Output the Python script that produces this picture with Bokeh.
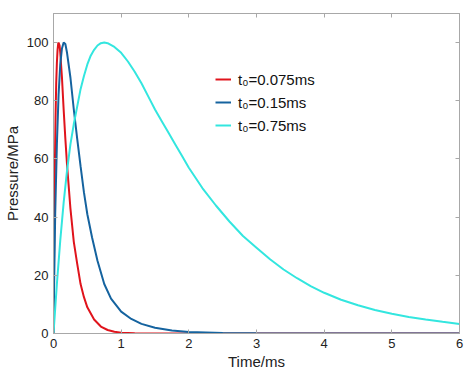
from bokeh.plotting import figure
from bokeh.models import Range1d, LinearAxis, Legend, LegendItem, FixedTicker
from bokeh.embed import file_html
from bokeh.resources import INLINE

# ---- data ----
t_red = [0, 0.01, 0.02, 0.03, 0.04, 0.05, 0.06, 0.07, 0.075, 0.09, 0.1, 0.125,
         0.15, 0.175, 0.2, 0.25, 0.3, 0.35, 0.4, 0.45, 0.5, 0.6, 0.7, 0.8,
         0.9, 1.0, 1.2, 1.5, 2.0, 6.0]
p_red = [0, 33, 57, 74, 86, 93, 97.5, 99.7, 100, 99, 96.5, 88,
         77, 67, 58, 43, 31.5, 24, 17, 12.5, 9, 4.8, 2.4, 1.2,
         0.6, 0.3, 0.1, 0.03, 0, 0]

t_blue = [0, 0.01, 0.025, 0.05, 0.075, 0.1, 0.125, 0.15, 0.175, 0.2, 0.25, 0.3,
          0.35, 0.4, 0.45, 0.5, 0.57, 0.65, 0.75, 0.85, 1.0, 1.15, 1.3, 1.5,
          1.75, 2.0, 2.5, 3.0, 4.0, 6.0]
p_blue = [0, 18, 41, 65, 82, 92.5, 98, 100, 99.5, 96.5, 88, 77,
          67, 57.5, 48.5, 41, 33, 25, 17, 12, 7.5, 5, 3.3, 2,
          1, 0.5, 0.15, 0.05, 0, 0]

t_cyan = [0, 0.05, 0.1, 0.15, 0.2, 0.25, 0.3, 0.35, 0.4, 0.45, 0.5, 0.55,
          0.6, 0.65, 0.7, 0.75, 0.8, 0.9, 1.0, 1.1, 1.2, 1.3, 1.4, 1.5,
          1.6, 1.7, 1.8, 1.9, 2.0, 2.2, 2.4, 2.6, 2.8, 3.0, 3.2, 3.4,
          3.6, 3.8, 4.0, 4.25, 4.5, 4.75, 5.0, 5.25, 5.5, 5.75, 6.0]
p_cyan = [0, 17, 32, 45, 56, 65, 72, 78, 84, 88.5, 92.5, 95.5,
          97.5, 99, 99.8, 100, 99.8, 98.5, 96.5, 93.5, 90, 86, 81.5, 77,
          73, 69, 65, 61, 57, 50, 44, 38.5, 33.5, 29.5, 25.5, 22,
          19, 16.3, 14, 11.6, 9.7, 8.1, 6.8, 5.7, 4.8, 4.0, 3.3]

labels = ["t\u2080=0.075ms", "t\u2080=0.15ms", "t\u2080=0.75ms"]
colors = ["#e0141c", "#15639f", "#33e6df"]
x_ticks = [0, 1, 2, 3, 4, 5, 6]
y_ticks = [0, 20, 40, 60, 80, 100]

FONT = "Liberation Sans"
GRAY = "#a8a8a8"

p = figure(width=466, height=372, output_backend="svg", toolbar_location=None,
           x_range=Range1d(0, 6), y_range=Range1d(0, 110),
           min_border_left=53, min_border_right=7, min_border_top=13,
           min_border_bottom=39)
p.grid.visible = False
p.outline_line_color = GRAY
p.background_fill_color = "white"
p.border_fill_color = "white"

r1 = p.line(t_red, p_red, line_color=colors[0], line_width=2)
r2 = p.line(t_blue, p_blue, line_color=colors[1], line_width=2)
r3 = p.line(t_cyan, p_cyan, line_color=colors[2], line_width=2)

for ax in (p.xaxis[0], p.yaxis[0]):
    ax.axis_line_color = GRAY
    ax.major_tick_line_color = GRAY
    ax.major_tick_in = 4
    ax.major_tick_out = 0
    ax.minor_tick_line_color = None
    ax.major_label_text_font = FONT
    ax.major_label_text_font_size = "13px"
    ax.major_label_text_color = "#222222"
    ax.axis_label_text_font = FONT
    ax.axis_label_text_font_size = "15px"
    ax.axis_label_text_font_style = "normal"
    ax.axis_label_text_color = "#222222"

p.xaxis[0].ticker = FixedTicker(ticks=x_ticks)
p.yaxis[0].ticker = FixedTicker(ticks=y_ticks)
p.xaxis[0].axis_label = "Time/ms"
p.yaxis[0].axis_label = "Pressure/MPa"
p.xaxis[0].major_label_standoff = 5
p.xaxis[0].axis_label_standoff = 2
p.yaxis[0].major_label_standoff = 5
p.yaxis[0].axis_label_standoff = 3

top = LinearAxis(ticker=FixedTicker(ticks=x_ticks))
right = LinearAxis(ticker=FixedTicker(ticks=y_ticks))
for ax in (top, right):
    ax.axis_line_color = GRAY
    ax.major_tick_line_color = GRAY
    ax.major_tick_in = 4
    ax.major_tick_out = 0
    ax.minor_tick_line_color = None
    ax.major_label_text_font_size = "0px"
    ax.major_label_text_color = None
    ax.major_label_standoff = 0
    ax.axis_label_standoff = 0
p.add_layout(top, "above")
p.add_layout(right, "right")

legend = Legend(items=[LegendItem(label=labels[0], renderers=[r1]),
                       LegendItem(label=labels[1], renderers=[r2]),
                       LegendItem(label=labels[2], renderers=[r3])],
                location=(162, 198), orientation="vertical")
legend.border_line_color = None
legend.background_fill_alpha = 0
legend.padding = 0
legend.margin = 0
legend.spacing = 3
legend.glyph_width = 16
legend.glyph_height = 20
legend.label_height = 20
legend.label_standoff = 7
legend.label_text_font = FONT
legend.label_text_font_size = "15px"
legend.label_text_color = "#111111"
legend.label_text_baseline = "middle"
p.add_layout(legend, "center")

open("out.html", "w").write(file_html(p, INLINE))
